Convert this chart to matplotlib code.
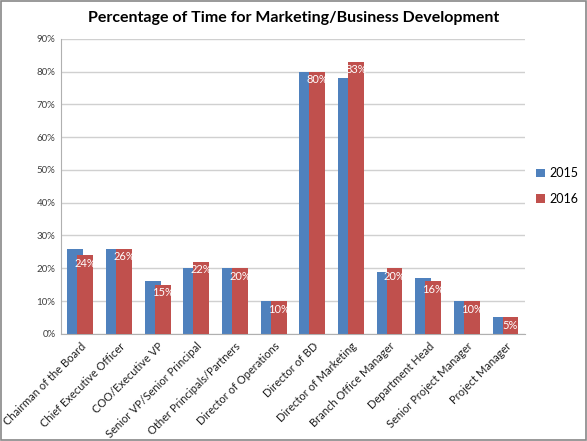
import numpy as np
import matplotlib
matplotlib.use("Agg")
import matplotlib.pyplot as plt
import matplotlib.transforms as mtransforms
from matplotlib.patches import Rectangle

plt.rcParams['font.family'] = ['Lato', 'DejaVu Sans']

categories = ["Chairman of the Board", "Chief Executive Officer", "COO/Executive VP",
              "Senior VP/Senior Principal", "Other Principals/Partners",
              "Director of Operations", "Director of BD", "Director of Marketing",
              "Branch Office Manager", "Department Head", "Senior Project Manager",
              "Project Manager"]
values_2015 = [26, 26, 16, 20, 20, 10, 80, 78, 19, 17, 10, 5]
values_2016 = [24, 26, 15, 22, 20, 10, 80, 83, 20, 16, 10, 5]

blue = "#4f81bd"
red = "#c0504d"

fig = plt.figure(figsize=(5.87, 4.41), dpi=100)
ax = fig.add_axes([0.104, 0.243, 0.79, 0.669])

x = np.arange(len(categories))
w = 0.41
off = 0.13
ax.bar(x - off, values_2015, w, color=blue, label="2015", zorder=2)
bars16 = ax.bar(x + off, values_2016, w, color=red, label="2016", zorder=3)

for b, v in zip(bars16, values_2016):
    ax.text(b.get_x() + b.get_width() / 2, v - 0.8, f"{v}%", ha='center', va='top',
            color='white', fontsize=8, zorder=4)

ax.set_xlim(-0.5, len(categories) - 0.5)
ax.set_ylim(0, 90)
ax.set_yticks(range(0, 91, 10))
ax.set_yticklabels([f"{t}%" for t in range(0, 91, 10)], fontsize=7, color='#404040')
ax.set_xticks(x)
ax.set_xticklabels(categories, rotation=45, ha='right', va='center',
                   rotation_mode='anchor', fontsize=8, color='#202020')
ax.tick_params(axis='both', length=0, pad=4)
# nudge the rotated labels so they sit like the original
shift = mtransforms.ScaledTranslation(4 / 100, -5 / 100, fig.dpi_scale_trans)
for lbl in ax.get_xticklabels():
    lbl.set_transform(lbl.get_transform() + shift)
ax.grid(axis='y', color='#d0d0d0', linewidth=1, zorder=0)
for s in ['top', 'right']:
    ax.spines[s].set_visible(False)
ax.spines['left'].set_color('#b0b0b0')
ax.spines['bottom'].set_color('#b0b0b0')

fig.suptitle("Percentage of Time for Marketing/Business Development",
             x=0.5, y=0.975, fontsize=11.5, fontweight='bold')

ax.legend(loc='center left', bbox_to_anchor=(1.0, 0.5), frameon=False,
          fontsize=9, handlelength=0.7, handleheight=0.7, handletextpad=0.35,
          labelspacing=1.1)

fig.patches.append(Rectangle((0.002, 0.002), 0.996, 0.996, transform=fig.transFigure,
                             fill=False, edgecolor='#888888', linewidth=1.2))

fig.savefig("out.png", dpi=100)
